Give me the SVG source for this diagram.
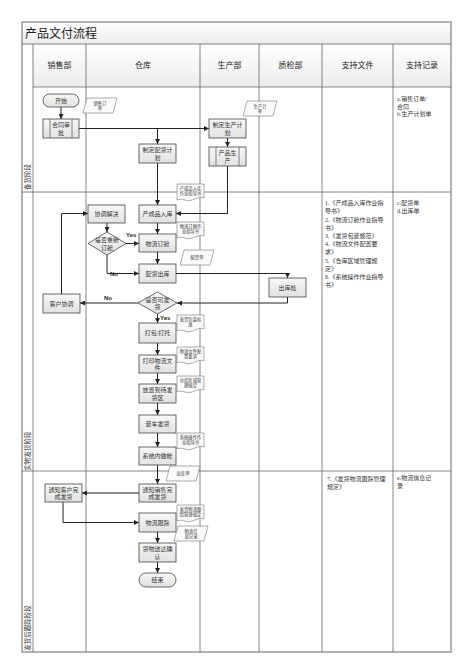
<svg xmlns="http://www.w3.org/2000/svg" xmlns:xlink="http://www.w3.org/1999/xlink" width="474" height="670" viewBox="0 0 474 670">
<style>
.lane{stroke:#666;stroke-width:0.8;fill:none}
.box{fill:url(#g);stroke:#444;stroke-width:0.8}
.doc{fill:#fafafa;stroke:#777;stroke-width:0.6}
.t{font-family:"Liberation Serif","Noto Sans CJK SC",serif;font-size:6px;fill:#333;text-anchor:middle}
.s{font-size:4.3px}
.h{font-size:8px;fill:#222}
.l{text-anchor:start;font-size:6px}
.e{font-family:"Liberation Sans",Arial,sans-serif;font-size:6px;font-weight:bold;fill:#222}
.c{stroke:#222;stroke-width:1;fill:none;marker-end:url(#a)}
.n{stroke:#222;stroke-width:1;fill:none}
</style>
<defs>
<linearGradient id="g" x1="0" y1="0" x2="0" y2="1"><stop offset="0" stop-color="#f7f7f7"/><stop offset="1" stop-color="#e2e2e2"/></linearGradient>
<linearGradient id="hg" x1="0" y1="0" x2="0" y2="1"><stop offset="0" stop-color="#ffffff"/><stop offset="1" stop-color="#ececec"/></linearGradient>
<marker id="a" viewBox="0 0 10 10" refX="10" refY="5" markerWidth="5" markerHeight="5" markerUnits="userSpaceOnUse" orient="auto"><path d="M0,0 L10,5 L0,10 z" fill="#222"/></marker>
<path id="dp" d="M0,0 H27 V14 C21,11 15,19 8,16 C5,15 2,15 0,16 Z"/>
<path id="pp" d="M4,0 H34 L30,15 H0 Z"/>
</defs>
<rect x="0" y="0" width="474" height="670" fill="#fff"/>
<g id="frame">
<rect x="22" y="22" width="429" height="22" fill="url(#hg)"/>
<rect x="33" y="44" width="418" height="43" fill="url(#hg)"/>
<rect x="22" y="22" width="429" height="630" fill="none" stroke="#999" stroke-width="1.5"/>
<line class="lane" x1="22" y1="44" x2="451" y2="44"/>
<line class="lane" x1="33" y1="87" x2="451" y2="87"/>
<line class="lane" x1="22" y1="192" x2="451" y2="192"/>
<line class="lane" x1="22" y1="471" x2="451" y2="471"/>
<line class="lane" x1="33" y1="44" x2="33" y2="652"/>
<line class="lane" x1="86" y1="44" x2="86" y2="652"/>
<line class="lane" x1="200" y1="44" x2="200" y2="652"/>
<line class="lane" x1="259" y1="44" x2="259" y2="652"/>
<line class="lane" x1="322" y1="44" x2="322" y2="652"/>
<line class="lane" x1="393" y1="44" x2="393" y2="652"/>
<text class="t" x="25" y="38" style="text-anchor:start;font-size:12px;fill:#222">产品文付流程</text>
<text class="t h" x="59.5" y="68">销售部</text>
<text class="t h" x="143" y="68">仓库</text>
<text class="t h" x="229.5" y="68">生产部</text>
<text class="t h" x="290.5" y="68">质检部</text>
<text class="t h" x="357.5" y="68">支持文件</text>
<text class="t h" x="422" y="68">支持记录</text>
<text class="t" transform="translate(30,177) rotate(-90)" style="font-size:6.5px">备货阶段</text>
<text class="t" transform="translate(30,451) rotate(-90)" style="font-size:6.5px">实物发货阶段</text>
<text class="t" transform="translate(30,628) rotate(-90)" style="font-size:6.5px">发货后跟踪阶段</text>
</g>
<g id="notes">
<text class="t l" x="397" y="101">a.销售订单/</text>
<text class="t l" x="397" y="108.5">合同</text>
<text class="t l" x="397" y="116">b.生产计划单</text>
<text class="t l" x="325" y="205">1.《产成品入库作业指</text>
<text class="t l" x="325" y="213">导书》</text>
<text class="t l" x="325" y="221.5">2.《物流订舱作业指导</text>
<text class="t l" x="325" y="229.5">书》</text>
<text class="t l" x="325" y="238">3.《发货包装规范》</text>
<text class="t l" x="325" y="246">4.《物流文件配置要</text>
<text class="t l" x="325" y="254">求》</text>
<text class="t l" x="325" y="262.5">5.《仓库区域管理规</text>
<text class="t l" x="325" y="270.5">定》</text>
<text class="t l" x="325" y="279">6.《系统操作作业指导</text>
<text class="t l" x="325" y="287">书》</text>
<text class="t l" x="397" y="205">c.配货单</text>
<text class="t l" x="397" y="213">d.出库单</text>
<text class="t l" x="327" y="481">7.《发货物流跟踪管理</text>
<text class="t l" x="327" y="489">规定》</text>
<text class="t l" x="397" y="480">e.物流信息记</text>
<text class="t l" x="397" y="488">录</text>
</g>
<g id="connectors">
<line class="c" x1="61" y1="107" x2="61" y2="119"/>
<line class="c" x1="79" y1="128.5" x2="209" y2="128.5"/>
<line class="c" x1="157.5" y1="128.5" x2="157.5" y2="144"/>
<line class="c" x1="227.5" y1="138" x2="227.5" y2="147"/>
<path class="c" d="M227.5,166 V213.5 H176"/>
<line class="c" x1="157.5" y1="163" x2="157.5" y2="205"/>
<line class="c" x1="157.5" y1="223" x2="157.5" y2="234"/>
<line class="c" x1="107" y1="223" x2="107" y2="232"/>
<line class="c" x1="126" y1="243.5" x2="139" y2="243.5"/>
<path class="c" d="M107,255 V273.5 H139"/>
<line class="c" x1="157.5" y1="252" x2="157.5" y2="264"/>
<path class="c" d="M176,273.5 H287.5 V278"/>
<path class="c" d="M287.5,297 V303 H177"/>
<line class="c" x1="138" y1="303" x2="80" y2="303"/>
<path class="c" d="M61.5,294 V213.5 H88"/>
<line class="c" x1="157.5" y1="314" x2="157.5" y2="323"/>
<line class="c" x1="157.5" y1="343" x2="157.5" y2="355"/>
<line class="c" x1="157.5" y1="373" x2="157.5" y2="384"/>
<line class="c" x1="157.5" y1="403" x2="157.5" y2="415"/>
<line class="c" x1="157.5" y1="433" x2="157.5" y2="447"/>
<line class="c" x1="157.5" y1="465" x2="157.5" y2="484"/>
<line class="c" x1="139" y1="493" x2="82" y2="493"/>
<path class="c" d="M63,502 V522.5 H139"/>
<line class="c" x1="157.5" y1="532" x2="157.5" y2="543"/>
<line class="c" x1="157.5" y1="562" x2="157.5" y2="573"/>
<text class="e" x="126" y="237">Yes</text>
<text class="e" x="110" y="276">No</text>
<text class="e" x="104" y="300">No</text>
<text class="e" x="160" y="320">Yes</text>
</g>
<g id="n-start"><rect class="box" x="43" y="94" width="36" height="13" rx="6.5"/><text class="t" x="61" y="102.5">开始</text></g>
<g id="n-contract"><rect class="box" x="43" y="119" width="36" height="19"/><line class="lane" x1="50" y1="119" x2="50" y2="138"/><line class="lane" x1="72" y1="119" x2="72" y2="138"/><text class="t" x="61" y="127">合同审</text><text class="t" x="61" y="134.5">批</text></g>
<g id="n-salesorder"><use href="#pp" x="83" y="98" class="doc"/><text class="t s" x="100" y="104.5">销售订</text><text class="t s" x="100" y="110">单</text></g>
<g id="n-prodorder"><use href="#pp" x="243" y="101" class="doc"/><text class="t s" x="260" y="107.5">生产计</text><text class="t s" x="260" y="113">单</text></g>
<g id="n-distplan"><rect class="box" x="139" y="144" width="37" height="19"/><text class="t" x="157.5" y="152">制定配货计</text><text class="t" x="157.5" y="159.5">划</text></g>
<g id="n-prodplan"><rect class="box" x="209" y="119" width="37" height="19"/><text class="t" x="227.5" y="127">制定生产计</text><text class="t" x="227.5" y="134.5">划</text></g>
<g id="n-production"><rect class="box" x="209" y="147" width="37" height="19"/><line class="lane" x1="216" y1="147" x2="216" y2="166"/><line class="lane" x1="239" y1="147" x2="239" y2="166"/><text class="t" x="227.5" y="155">产品生</text><text class="t" x="227.5" y="162.5">产</text></g>
<g id="n-d1"><use href="#dp" x="177" y="184" class="doc"/><text class="t s" x="190.5" y="190">产成品入库</text><text class="t s" x="190.5" y="195">作业指导书</text></g>
<g id="n-instock"><rect class="box" x="139" y="205" width="37" height="18"/><text class="t" x="157.5" y="216">产成品入库</text></g>
<g id="n-coord"><rect class="box" x="88" y="205" width="37" height="18"/><text class="t" x="106.5" y="216">协调解决</text></g>
<g id="n-rebook"><path class="box" d="M107,232 L126,243.5 L107,255 L88,243.5 Z"/><text class="t" x="107" y="242">是否重新</text><text class="t" x="107" y="249.5">订舱</text></g>
<g id="n-booking"><rect class="box" x="139" y="234" width="37" height="18"/><text class="t" x="157.5" y="245.5">物流订舱</text></g>
<g id="n-d2"><use href="#dp" x="177" y="222" class="doc"/><text class="t s" x="190.5" y="228">物流订舱作</text><text class="t s" x="190.5" y="233">业指导书</text></g>
<g id="n-distlist"><use href="#pp" x="180" y="250" class="doc"/><text class="t s" x="197" y="259">配货单</text></g>
<g id="n-outbound"><rect class="box" x="139" y="264" width="37" height="19"/><text class="t" x="157.5" y="275.5">配货出库</text></g>
<g id="n-qc"><rect class="box" x="269" y="278" width="37" height="19"/><text class="t" x="287.5" y="289.5">出库检</text></g>
<g id="n-canship"><path class="box" d="M157.5,292 L177,303 L157.5,314 L138,303 Z"/><text class="t" x="157.5" y="301.5">是否可发</text><text class="t" x="157.5" y="309">货</text></g>
<g id="n-custcoord"><rect class="box" x="43" y="294" width="37" height="19"/><text class="t" x="61.5" y="305.5">客户协调</text></g>
<g id="n-pack"><rect class="box" x="139" y="323" width="37" height="20"/><text class="t" x="157.5" y="335">打包/打托</text></g>
<g id="n-d3"><use href="#dp" x="177" y="315" class="doc"/><text class="t s" x="190.5" y="321">发货包装标</text><text class="t s" x="190.5" y="326">准</text></g>
<g id="n-printdoc"><rect class="box" x="139" y="355" width="37" height="18"/><text class="t" x="157.5" y="362.5">打印物流文</text><text class="t" x="157.5" y="370">件</text></g>
<g id="n-d4"><use href="#dp" x="177" y="347" class="doc"/><text class="t s" x="190.5" y="353">物流文件配</text><text class="t s" x="190.5" y="358">置要求</text></g>
<g id="n-place"><rect class="box" x="139" y="384" width="37" height="19"/><text class="t" x="157.5" y="392">放置到待发</text><text class="t" x="157.5" y="399.5">货区</text></g>
<g id="n-d5"><use href="#dp" x="177" y="376" class="doc"/><text class="t s" x="190.5" y="382">仓库区域管</text><text class="t s" x="190.5" y="387">理规定</text></g>
<g id="n-load"><rect class="box" x="139" y="415" width="37" height="18"/><text class="t" x="157.5" y="426">装车发货</text></g>
<g id="n-d6"><use href="#dp" x="177" y="433" class="doc"/><text class="t s" x="190.5" y="439">系统操作作</text><text class="t s" x="190.5" y="444">业指导书</text></g>
<g id="n-account"><rect class="box" x="139" y="447" width="37" height="18"/><text class="t" x="157.5" y="458">系统内做帐</text></g>
<g id="n-outlist"><use href="#pp" x="166" y="466" class="doc"/><text class="t s" x="183" y="475">出库单</text></g>
<g id="n-notifysales"><rect class="box" x="139" y="484" width="37" height="18"/><text class="t" x="157.5" y="491.5">通知销售完</text><text class="t" x="157.5" y="499">成发货</text></g>
<g id="n-notifycust"><rect class="box" x="45" y="484" width="37" height="18"/><text class="t" x="63.5" y="491.5">通知客户完</text><text class="t" x="63.5" y="499">成发货</text></g>
<g id="n-track"><rect class="box" x="139" y="513" width="37" height="19"/><text class="t" x="157.5" y="524.5">物流跟踪</text></g>
<g id="n-d7"><use href="#dp" x="177" y="505" class="doc"/><text class="t s" x="190.5" y="511">发货物流跟</text><text class="t s" x="190.5" y="516">踪管理规定</text></g>
<g id="n-trackrec"><use href="#pp" x="174" y="526" class="doc"/><text class="t s" x="191" y="532.5">物流信</text><text class="t s" x="191" y="538">息记录</text></g>
<g id="n-confirm"><rect class="box" x="139" y="543" width="37" height="19"/><text class="t" x="157.5" y="551">货物送达确</text><text class="t" x="157.5" y="558.5">认</text></g>
<g id="n-end"><rect class="box" x="139" y="573" width="37" height="14" rx="7"/><text class="t" x="157.5" y="582">结束</text></g>
</svg>
